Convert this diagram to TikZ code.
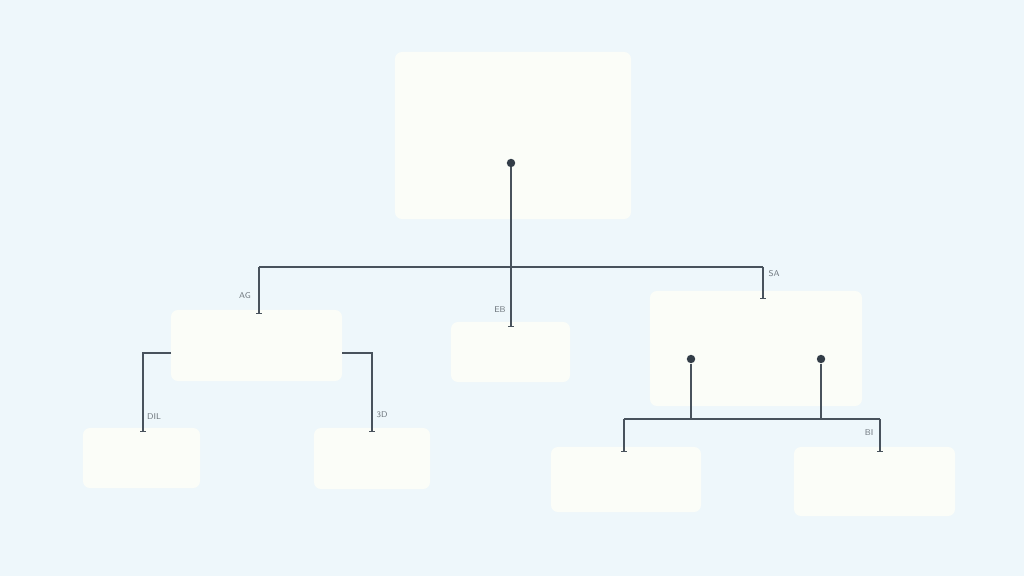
\documentclass[tikz,border=0pt]{standalone}
\usepackage{tikz}
\usetikzlibrary{positioning}
\usetikzlibrary{arrows.meta}

\definecolor{bgblue}{HTML}{EEF7FB}
\definecolor{boxfill}{HTML}{FBFDF8}
\definecolor{wirecol}{HTML}{48525C}
\definecolor{dotcol}{HTML}{333D48}
\definecolor{labcol}{HTML}{6E767D}

\tikzset{
  card/.style={fill=boxfill, rounded corners=5pt, inner sep=0pt},
  wire/.style={draw=wirecol, line width=0.85pt},
  endbar/.style={-{Bar[width=4pt,line width=0.8pt]}},
  knob/.style={circle, fill=dotcol, inner sep=0pt, minimum size=6pt},
  tag/.style={text=labcol, font=\sffamily\fontsize{6}{7}\selectfont, inner sep=1pt}
}

\begin{document}
\begin{tikzpicture}[x=0.025cm, y=-0.025cm]

                % Background
                \fill[bgblue] (0,0) rectangle (1024,576);
                \useasboundingbox (0,0) rectangle (1024,576);

                % Boxes
                \node at (513,135.5) (root) [card, minimum width=5.9cm, minimum height=4.175cm] {};
                \node at (256.5,345.5) (left) [card, minimum width=4.275cm, minimum height=1.775cm] {};
                \node at (510.5,352) (mid) [card, minimum width=2.975cm, minimum height=1.5cm] {};
                \node at (756,348.5) (right) [card, minimum width=5.3cm, minimum height=2.875cm] {};
                \node at (141.5,458) (leftleaf) [card, minimum width=2.925cm, minimum height=1.5cm] {};
                \node at (372,458.5) (rightleaf) [card, minimum width=2.9cm, minimum height=1.525cm] {};
                \node at (626,479.5) (lowleft) [card, minimum width=3.75cm, minimum height=1.625cm] {};
                \node at (874.5,481.5) (lowright) [card, minimum width=4.025cm, minimum height=1.725cm] {};

                % Dots
                \node at (511,163) (rootdot) [knob] {};
                \node at (691,359) (rdotA) [knob] {};
                \node at (821,359) (rdotB) [knob] {};

                % Junctions
                \coordinate (busL) at (259,267);
                \coordinate (busR) at (763,267);
                \coordinate (midend) at (511,327);
                \coordinate (leftend) at (259,314);
                \coordinate (rightend) at (763,299);
                \coordinate (leftout) at (171,353);
                \coordinate (rightout) at (342,353);
                \coordinate (llend) at (143,432);
                \coordinate (lrend) at (372,432);
                \coordinate (lowbusL) at (624,419);
                \coordinate (lowbusR) at (880,419);
                \coordinate (rlend) at (624,452);
                \coordinate (rrend) at (880,452);

                % Connectors
                \draw[wire, endbar] (rootdot) -- (midend);
                \draw[wire] (busL) -- (busR);
                \draw[wire, endbar] (busL) -- (leftend);
                \draw[wire, endbar] (busR) -- (rightend);
                \draw[wire, endbar] (leftout) -| (llend);
                \draw[wire, endbar] (rightout) -| (lrend);
                \draw[wire] (rdotA) -- (rdotA |- lowbusL);
                \draw[wire] (rdotB) -- (rdotB |- lowbusL);
                \draw[wire] (lowbusL) -- (lowbusR);
                \draw[wire, endbar] (lowbusL) -- (rlend);
                \draw[wire, endbar] (lowbusR) -- (rrend);

                % Labels
                \node at (245,296) (tagL) [tag] {AG};
                \node at (774,274) (tagR) [tag] {SA};
                \node at (500,310) (tagM) [tag] {EB};
                \node at (154,417) (tagLL) [tag] {DIL};
                \node at (382,415) (tagLR) [tag] {3D};
                \node at (869,433) (tagRR) [tag] {BI};

\end{tikzpicture}
\end{document}
